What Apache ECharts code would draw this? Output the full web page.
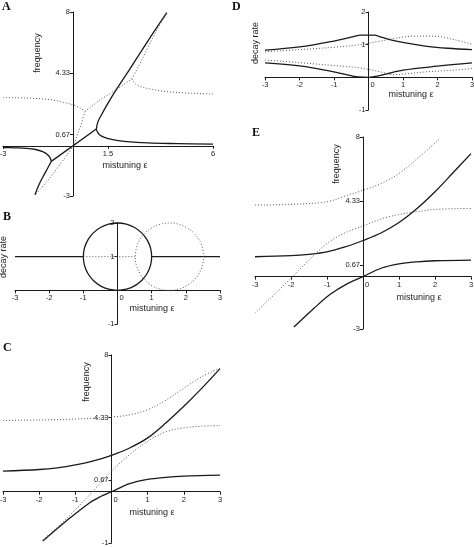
<!DOCTYPE html>
<html><head><meta charset="utf-8">
<script src="https://cdn.jsdelivr.net/npm/echarts@6/dist/echarts.min.js"></script>
<style>html,body{margin:0;padding:0;background:#fff}#c{width:474px;height:547px}</style>
</head><body><div id="c"></div>
<script>
// ---------- Panel A ----------
const aXTicks = [-3, 1.5, 6];
const aXTickLabels = ['-3', '1.5', '6'];
const aYTicks = [-3, 0.67, 4.33, 8];
const aYTickLabels = ['-3', '0.67', '4.33', '8'];
const aSolidLeft = [[-3,-0.1],[-2.5,-0.12],[-2,-0.15],[-1.6,-0.22],[-1.3,-0.35],[-1.1,-0.52],[-0.98,-0.72],[-0.93,-0.93]];
const aSolidDown = [[-0.93,-0.93],[-1.2,-1.63],[-1.45,-2.3],[-1.63,-2.93]];
const aSolidDiag = [[-0.93,-0.93],[1.0,1.0]];
const aSolidUp = [[1.0,1.0],[1.06,1.4],[1.2,1.8],[1.5,2.55],[1.8,3.24],[2.44,4.6],[3.2,6.25],[4.02,7.96]];
const aSolidRight = [[1.0,1.0],[1.05,0.82],[1.15,0.65],[1.35,0.5],[1.7,0.37],[2.2,0.27],[3.2,0.17],[4.5,0.13],[6,0.1]];
const aDotLeft = [[-3,2.88],[-2,2.86],[-1,2.76],[-0.4,2.6],[0.1,2.4],[0.35,2.22],[0.51,2.05]];
const aDotDown = [[0.51,2.05],[0.35,1.3],[0.2,0.72],[0,0],[-0.5,-1.0],[-1.1,-2.1],[-1.6,-2.9]];
const aDotMid = [[0.51,2.05],[1.16,2.75],[1.8,3.3],[2.52,4.0]];
const aDotRight = [[2.52,4.0],[2.73,3.64],[3.16,3.44],[4.02,3.24],[5,3.15],[6,3.1]];
const aDotUp = [[2.52,4.0],[2.8,4.73],[3.16,5.73],[3.59,6.93],[4.02,7.9]];

// ---------- Panel B ----------
const bXTicks = [-3,-2,-1,0,1,2,3];
const bXTickLabels = ['-3','-2','-1','0','1','2','3'];
const bYTicks = [-1, 1, 2];
const bYTickLabels = ['-1','1','2'];
const bSolidLeft = [[-3,1],[-1,1]];
const bSolidRight = [[1,1],[3,1]];
const bSolidCircle = [[1,1],[0.966,1.259],[0.866,1.5],[0.707,1.707],[0.5,1.866],[0.259,1.966],[0,2],[-0.259,1.966],[-0.5,1.866],[-0.707,1.707],[-0.866,1.5],[-0.966,1.259],[-1,1],[-0.966,0.741],[-0.866,0.5],[-0.707,0.293],[-0.5,0.134],[-0.259,0.034],[0,0],[0.259,0.034],[0.5,0.134],[0.707,0.293],[0.866,0.5],[0.966,0.741],[1,1]];
const bDotLine = [[-1,1],[0.52,1]];
const bDotCircle = [[2.52,1],[2.486,1.259],[2.386,1.5],[2.227,1.707],[2.02,1.866],[1.779,1.966],[1.52,2],[1.261,1.966],[1.02,1.866],[0.813,1.707],[0.654,1.5],[0.554,1.259],[0.52,1],[0.554,0.741],[0.654,0.5],[0.813,0.293],[1.02,0.134],[1.261,0.034],[1.52,0],[1.779,0.034],[2.02,0.134],[2.227,0.293],[2.386,0.5],[2.486,0.741],[2.52,1]];

// ---------- Panel C ----------
const cXTicks = [-3,-2,-1,0,1,2,3];
const cXTickLabels = ['-3','-2','-1','0','1','2','3'];
const cYTicks = [-3, 0.67, 4.33, 8];
const cYTickLabels = ['-1', '0.67', '4.33', '8'];
const cSolidUpper = [[-3,1.2],[-2,1.3],[-1.5,1.4],[-1,1.57],[-0.5,1.8],[0,2.13],[0.5,2.56],[1,3.15],[1.5,4.02],[2,5.0],[2.5,6.06],[3,7.2]];
const cSolidLower = [[-1.9,-2.88],[-1.25,-1.71],[-0.6,-0.64],[-0.3,-0.28],[0,0],[0.5,0.47],[1,0.72],[1.5,0.84],[2,0.91],[3,0.97]];
const cDotUpper = [[-3,4.17],[-2,4.2],[-1,4.25],[0,4.37],[0.5,4.5],[1,4.8],[1.5,5.35],[2,6.06],[2.5,6.74],[3,7.23]];
const cDotMid = [[-1.9,-2.82],[-1.4,-1.9],[-1,-1.05],[-0.5,0.05],[0,1.2],[0.5,2.17],[1,2.95],[1.5,3.5],[2,3.74],[2.5,3.83],[3,3.87]];

// ---------- Panel D ----------
const dXTicks = [-3,-2,-1,0,1,2,3];
const dXTickLabels = ['-3','-2','-1','0','1','2','3'];
const dYTicks = [-1, 1, 2];
const dYTickLabels = ['-1','1','2'];
const dSolidUpper = [[-3,0.83],[-2,0.93],[-1,1.11],[-0.5,1.23],[-0.2,1.29],[0.15,1.29],[0.4,1.22],[0.7,1.13],[1,1.07],[1.7,0.95],[2.3,0.89],[3,0.85]];
const dSolidLower = [[-3,0.44],[-2,0.35],[-1,0.17],[-0.5,0.05],[-0.3,0.01],[0,0],[0.2,0.03],[0.5,0.1],[1,0.22],[2,0.34],[3,0.44]];
const dDotUpper = [[-3,0.78],[-2,0.85],[-1,0.92],[-0.26,1.0],[0.3,1.1],[0.7,1.18],[1.3,1.26],[1.9,1.26],[2.5,1.15],[3,1.01]];
const dDotLower = [[-3,0.53],[-2,0.45],[-1,0.36],[-0.26,0.29],[0.33,0.17],[0.75,0.08],[1.0,0.1],[1.7,0.17],[2.5,0.22],[3,0.27]];

// ---------- Panel E ----------
const eXTicks = [-3,-2,-1,0,1,2,3];
const eXTickLabels = ['-3','-2','-1','0','1','2','3'];
const eYTicks = [-3, 0.67, 4.33, 8];
const eYTickLabels = ['-3', '0.67', '4.33', '8'];
const eSolidUpper = [[-3,1.14],[-2,1.2],[-1.5,1.28],[-1,1.42],[-0.5,1.7],[0,2.07],[0.5,2.5],[1,3.1],[1.5,3.9],[2,4.86],[2.5,5.95],[3,7.05]];
const eSolidLower = [[-1.92,-2.89],[-1.36,-1.81],[-0.9,-1.0],[-0.43,-0.4],[0,0],[0.5,0.48],[1,0.73],[1.5,0.85],[2,0.91],[3,0.95]];
const eDotUpper = [[-3,4.1],[-2,4.14],[-1,4.29],[-0.45,4.65],[0,4.95],[0.5,5.33],[1,5.91],[1.5,6.75],[2.12,7.87]];
const eDotMid = [[-3,-2.09],[-2,-0.09],[-1.36,1.24],[-0.9,2.05],[-0.4,2.6],[0,2.9],[0.5,3.3],[1,3.56],[1.5,3.72],[2,3.85],[3,3.91]];

const INK = '#1a1a1a';
const FONT = '"Liberation Sans", Arial, sans-serif';

// grid boxes (pixels) and axis ranges per panel: A, B, C, D, E
const GRIDS = [
  { left: 3, top: 12, width: 210, height: 184 },
  { left: 15, top: 223, width: 205, height: 101 },
  { left: 3, top: 355, width: 217, height: 188 },
  { left: 265, top: 12, width: 207, height: 98 },
  { left: 255, top: 137, width: 216, height: 192 }
];
const XR = [[-3, 6], [-3, 3], [-3, 3], [-3, 3], [-3, 3]];
const YR = [[-3, 8], [-1, 2], [-3, 8], [-1, 2], [-3, 8]];

function labelOf(ticks, labels, v) {
  for (let i = 0; i < ticks.length; i++) if (Math.abs(ticks[i] - v) < 1e-6) return labels[i];
  return '';
}
function xAx(gi, ticks, labels) {
  const g = GRIDS[gi], yr = YR[gi];
  return {
    type: 'value', gridIndex: gi, min: XR[gi][0], max: XR[gi][1], position: 'bottom',
    offset: -g.height * (0 - yr[0]) / (yr[1] - yr[0]),
    axisLine: { onZero: false, lineStyle: { color: INK, width: 1 } },
    axisTick: { show: true, customValues: ticks, length: 3, lineStyle: { color: INK, width: 1 } },
    axisLabel: {
      customValues: ticks, fontSize: 7.5, color: '#222', margin: 4, fontFamily: FONT,
      formatter: function (v) { const t = labelOf(ticks, labels, v); return t === '0' ? '{z|0}' : t; },
      rich: { z: { fontSize: 7.5, fontFamily: FONT, color: '#222', padding: [0, 0, 0, 8] } }
    },
    splitLine: { show: false }
  };
}
function yAx(gi, ticks, labels) {
  const g = GRIDS[gi], xr = XR[gi];
  return {
    type: 'value', gridIndex: gi, min: YR[gi][0], max: YR[gi][1], position: 'left',
    offset: -g.width * (0 - xr[0]) / (xr[1] - xr[0]),
    axisLine: { onZero: false, lineStyle: { color: INK, width: 1 } },
    axisTick: { show: true, customValues: ticks, length: 3, lineStyle: { color: INK, width: 1 } },
    axisLabel: {
      customValues: ticks, fontSize: 7.5, color: '#222', margin: 3, fontFamily: FONT,
      formatter: function (v) { return labelOf(ticks, labels, v); }
    },
    splitLine: { show: false }
  };
}
function ln(gi, data, dotted, smooth) {
  return {
    type: 'line', xAxisIndex: gi, yAxisIndex: gi, data: data, symbol: 'none',
    smooth: smooth === undefined ? 0.35 : smooth, clip: false, silent: true, animation: false,
    lineStyle: dotted ? { color: '#555', width: 1, type: [1, 2] } : { color: INK, width: 1.3 }
  };
}
function txt(x, y, text, rot, size) {
  return { type: 'text', x: x, y: y, rotation: rot || 0, silent: true,
    style: { text: text, font: (size || 9) + 'px ' + FONT, fill: '#222', align: 'center', verticalAlign: 'middle' } };
}
function letter(x, y, t) {
  return { type: 'text', x: x, y: y, silent: true,
    style: { text: t, font: 'bold 12px "Liberation Serif", "Times New Roman", serif', fill: '#111', align: 'left', verticalAlign: 'top' } };
}

const chart = echarts.init(document.getElementById('c'));
chart.setOption({
  animation: false,
  backgroundColor: '#fff',
  grid: GRIDS.map(g => Object.assign({ containLabel: false, outerBoundsMode: 'none' }, g)),
  xAxis: [
    xAx(0, aXTicks, aXTickLabels),
    xAx(1, bXTicks, bXTickLabels),
    xAx(2, cXTicks, cXTickLabels),
    xAx(3, dXTicks, dXTickLabels),
    xAx(4, eXTicks, eXTickLabels)
  ],
  yAxis: [
    yAx(0, aYTicks, aYTickLabels),
    yAx(1, bYTicks, bYTickLabels),
    yAx(2, cYTicks, cYTickLabels),
    yAx(3, dYTicks, dYTickLabels),
    yAx(4, eYTicks, eYTickLabels)
  ],
  series: [
    ln(0, aSolidLeft, false), ln(0, aSolidDown, false), ln(0, aSolidDiag, false, false),
    ln(0, aSolidUp, false), ln(0, aSolidRight, false),
    ln(0, aDotLeft, true), ln(0, aDotDown, true), ln(0, aDotMid, true, false),
    ln(0, aDotRight, true), ln(0, aDotUp, true),

    ln(1, bSolidLeft, false, false), ln(1, bSolidRight, false, false), ln(1, bSolidCircle, false, 0.5),
    ln(1, bDotLine, true, false), ln(1, bDotCircle, true, 0.5),

    ln(2, cSolidUpper, false), ln(2, cSolidLower, false), ln(2, cDotUpper, true), ln(2, cDotMid, true),

    ln(3, dSolidUpper, false), ln(3, dSolidLower, false), ln(3, dDotUpper, true), ln(3, dDotLower, true),

    ln(4, eSolidUpper, false), ln(4, eSolidLower, false), ln(4, eDotUpper, true), ln(4, eDotMid, true)
  ],
  graphic: [
    letter(2, 1, 'A'), letter(3, 211, 'B'), letter(3, 342, 'C'), letter(232, 1, 'D'), letter(252, 127, 'E'),
    txt(38, 53, 'frequency', Math.PI / 2),
    txt(125, 166, 'mistuning \u03b5'),
    txt(4, 257, 'decay rate', Math.PI / 2),
    txt(152, 309, 'mistuning \u03b5'),
    txt(87, 382, 'frequency', Math.PI / 2),
    txt(152, 513, 'mistuning \u03b5'),
    txt(256, 43, 'decay rate', Math.PI / 2),
    txt(411, 95, 'mistuning \u03b5'),
    txt(337, 164, 'frequency', Math.PI / 2),
    txt(419, 298, 'mistuning \u03b5')
  ]
});
</script>
</body></html>
